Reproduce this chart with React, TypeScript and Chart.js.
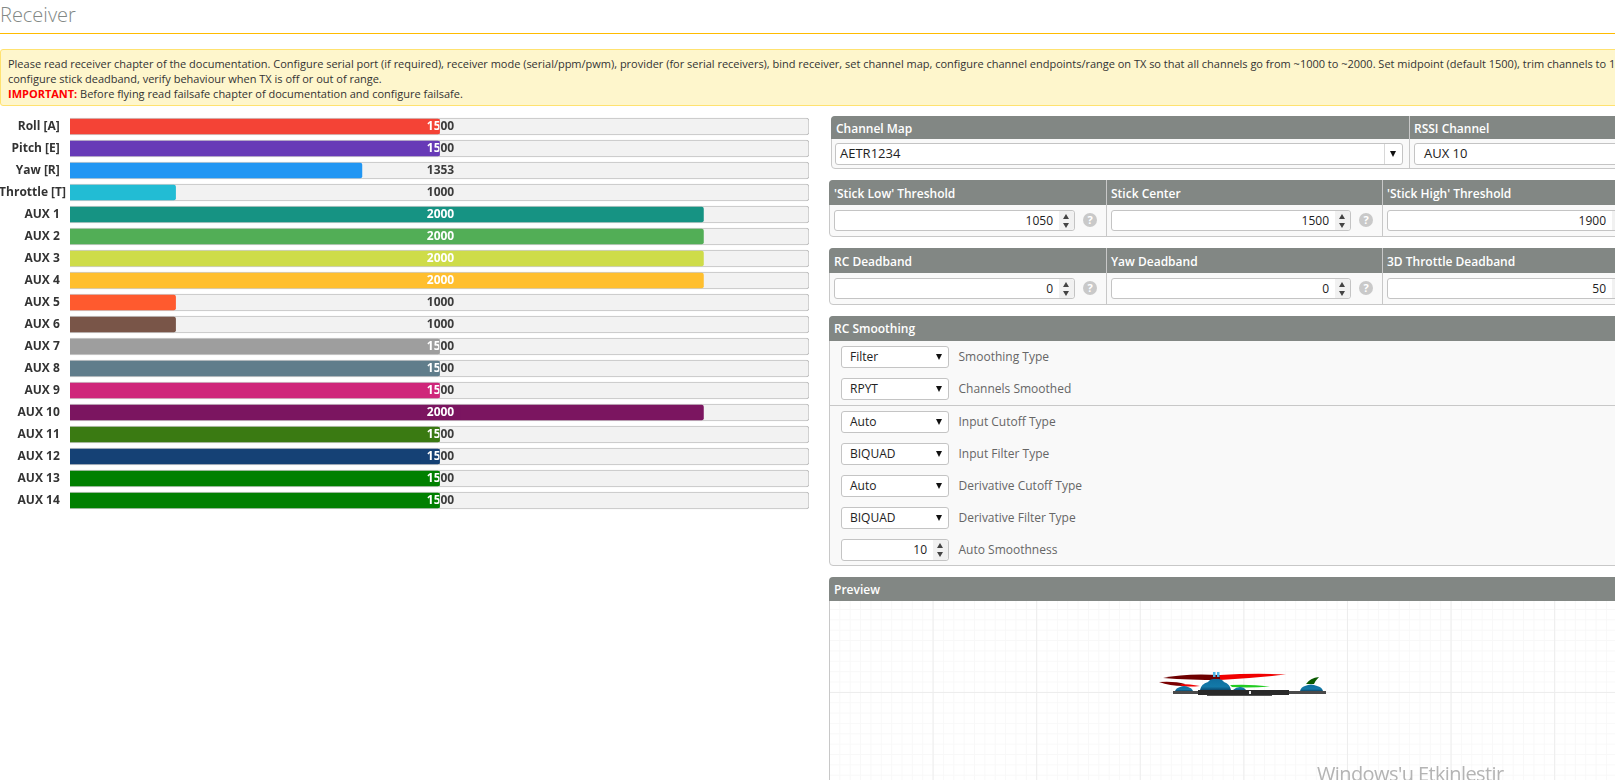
import { useEffect, useRef } from "react";
import type { CSSProperties, ReactNode } from "react";
import { Chart, registerables } from "chart.js";

Chart.register(...registerables);

const channels = [
  "Roll [A]", "Pitch [E]", "Yaw [R]", "Throttle [T]", "AUX 1", "AUX 2", "AUX 3", "AUX 4", "AUX 5",
  "AUX 6", "AUX 7", "AUX 8", "AUX 9", "AUX 10", "AUX 11", "AUX 12", "AUX 13", "AUX 14",
];
const channelValues = [1500, 1500, 1353, 1000, 2000, 2000, 2000, 2000, 1000, 1000, 1500, 1500, 1500, 2000, 1500, 1500, 1500, 1500];
const channelColors = [
  "#f44336", "#673ab7", "#2196f3", "#22bcd4", "#169383", "#52ae56", "#cedc49", "#ffbf2e", "#ff5a2e",
  "#795548", "#9e9e9e", "#607d8b", "#cf267a", "#7b1560", "#3a7a12", "#154175", "#008000", "#008000",
];
const meterMin = 800;
const meterMax = 2200;
const meterMid = 1500;

const FONT = '"Open Sans", sans-serif';

// value text sits in the middle of the track, white where the fill covers it
const meterTextPlugin = {
  id: "meterText",
  afterDatasetsDraw(chart: any) {
    const { ctx, scales } = chart;
    const cx = scales.x.getPixelForValue(meterMid) + 1;
    ctx.save();
    ctx.font = `bold 12px ${FONT}`;
    ctx.textAlign = "center";
    ctx.textBaseline = "middle";
    channelValues.forEach((v, i) => {
      const y = scales.y.getPixelForValue(i);
      ctx.fillStyle = "#3c3c3c";
      ctx.fillText(String(v), cx, y);
      const end = scales.x.getPixelForValue(v);
      ctx.save();
      ctx.beginPath();
      ctx.rect(scales.x.left, y - 9, end - scales.x.left, 18);
      ctx.clip();
      ctx.fillStyle = channelColors[i];
      ctx.fillRect(Math.max(cx - 20, scales.x.left), y - 7.5, 40, 15);
      ctx.fillStyle = "#ffffff";
      ctx.fillText(String(v), cx, y);
      ctx.restore();
    });
    ctx.restore();
  },
};

function ReceiverMeters() {
  const canvasRef = useRef<HTMLCanvasElement>(null);

  useEffect(() => {
    if (!canvasRef.current) return;
    const chart = new Chart(canvasRef.current, {
      type: "bar",
      data: {
        labels: channels,
        datasets: [
          {
            data: channelValues,
            backgroundColor: channelColors,
            barThickness: 15,
            borderRadius: 2,
            borderSkipped: false,
            grouped: false,
            order: 1,
          } as any,
          {
            data: channels.map(() => meterMax),
            backgroundColor: "#f2f2f2",
            borderColor: "#c0c0c0",
            borderWidth: 1,
            barThickness: 17,
            borderRadius: 3,
            borderSkipped: false,
            grouped: false,
            order: 2,
          } as any,
        ],
      },
      plugins: [meterTextPlugin],
      options: {
        indexAxis: "y",
        responsive: false,
        animation: false,
        devicePixelRatio: 1,
        layout: { padding: { left: 0, right: 11, top: 0.5, bottom: 0.5 } },
        scales: {
          x: { display: false, min: meterMin, max: meterMax },
          y: {
            afterFit: (scale: any) => {
              scale.width = 70;
              // the rows fill the whole canvas height
              scale.paddingTop = 0;
              scale.paddingBottom = 0;
            },
            grid: { display: false, drawTicks: false },
            border: { display: false },
            ticks: {
              padding: 4,
              color: "#333333",
              font: { family: FONT, size: 12, weight: "bold" },
              autoSkip: false,
              // Throttle overhangs the 60px label column in the original
              callback: (_v: any, i: number) => (channels[i] === "Throttle [T]" ? channels[i] : channels[i] + "\u00a0\u00a0"),
            },
          },
        },
        plugins: { legend: { display: false }, tooltip: { enabled: false } },
      },
    });
    return () => chart.destroy();
  }, []);

  return <canvas ref={canvasRef} width={820} height={397} style={{ position: "absolute", left: 0, top: 115 }} />;
}

function Box({ l, t, w, h, style, children }: { l: number; t: number; w?: number; h?: number; style?: CSSProperties; children?: ReactNode }) {
  return <div style={{ position: "absolute", left: l, top: t, width: w, height: h, boxSizing: "border-box", ...style }}>{children}</div>;
}

function Panel({ l, t, h, headerH, dividers = [] }: { l: number; t: number; h: number; headerH: number; dividers?: number[] }) {
  return (
    <>
      <Box l={l} t={t} w={1615 - l + 20} h={h} style={{ background: "#f9f9f9", border: "1px solid #c8c8c8", borderRadius: 4 }} />
      <Box l={l} t={t} w={1615 - l + 20} h={headerH} style={{ background: "#828784", borderRadius: "4px 4px 0 0" }} />
      {dividers.map((x) => (
        <Box key={x} l={x} t={t} w={1} h={h} style={{ background: "#c8c8c8" }} />
      ))}
    </>
  );
}

function Head({ l, t, children }: { l: number; t: number; children: ReactNode }) {
  return <Box l={l} t={t} style={{ color: "#fff", fontSize: 12, fontWeight: 600, lineHeight: "16px", whiteSpace: "nowrap" }}>{children}</Box>;
}

function Arrow({ l, t }: { l: number; t: number }) {
  return <Box l={l} t={t} style={{ width: 0, height: 0, borderLeft: "3px solid transparent", borderRight: "3px solid transparent", borderTop: "6px solid #111" }} />;
}

function Spinner({ l, t, h }: { l: number; t: number; h: number }) {
  return (
    <Box l={l} t={t} w={15} h={h} style={{ background: "#f1f1f1", borderRadius: "0 3px 3px 0" }}>
      <Box l={4} t={h / 2 - 7} style={{ width: 0, height: 0, borderLeft: "3.5px solid transparent", borderRight: "3.5px solid transparent", borderBottom: "5px solid #444" }} />
      <Box l={4} t={h / 2 + 2} style={{ width: 0, height: 0, borderLeft: "3.5px solid transparent", borderRight: "3.5px solid transparent", borderTop: "5px solid #444" }} />
    </Box>
  );
}

function NumberField({ l, r, t, h, value }: { l: number; r: number; t: number; h: number; value: string }) {
  return (
    <>
      <Box l={l} t={t} w={r - l} h={h} style={{ background: "#fff", border: "1px solid #c4c4c4", borderRadius: 3 }} />
      <Box l={l} t={t} w={r - l - 22} h={h} style={{ textAlign: "right", fontSize: 12, lineHeight: `${h}px`, color: "#222" }}>{value}</Box>
      <Spinner l={r - 16} t={t + 1} h={h - 2} />
    </>
  );
}

function Help({ l, t }: { l: number; t: number }) {
  return <Box l={l} t={t} w={14} h={14} style={{ borderRadius: 7, background: "#c9c9c9", color: "#fff", fontSize: 11, fontWeight: 700, lineHeight: "14px", textAlign: "center" }}>?</Box>;
}

function Select({ t, value, label }: { t: number; value: string; label: string }) {
  return (
    <>
      <Box l={841} t={t} w={108} h={22} style={{ background: "#fff", border: "1px solid #c4c4c4", borderRadius: 3, paddingLeft: 8, fontSize: 12, lineHeight: "20px", color: "#222" }}>{value}</Box>
      <Arrow l={936} t={t + 8} />
      <Box l={958.5} t={t} h={22} style={{ fontSize: 12, lineHeight: "22px", color: "#666", whiteSpace: "nowrap" }}>{label}</Box>
    </>
  );
}

function Drone() {
  return (
    <svg width={1615} height={780} style={{ position: "absolute", left: 0, top: 0 }}>
      <defs>
        <linearGradient id="dome" x1="0" y1="0" x2="0" y2="1">
          <stop offset="0" stopColor="#0f6f9f" />
          <stop offset="0.7" stopColor="#1379a8" />
          <stop offset="1" stopColor="#0a4a70" />
        </linearGradient>
      </defs>
      <path d="M1163 678 Q1185 673 1220 675 L1220 680 Q1190 680 1163 678Z" fill="#6e0000" />
      <path d="M1220 675 Q1255 673 1286 674.500 Q1255 678 1220 680Z" fill="#f00000" />
      <path d="M1159 682 Q1175 681 1185 684 L1183 686 Q1170 686 1159 682Z" fill="#7a0000" />
      <path d="M1180 684 Q1190 684 1200 686 Q1190 687 1182 686Z" fill="#f00000" />
      <path d="M1230 685 Q1250 684 1270 686.500 Q1250 688 1232 687Z" fill="#22cc22" />
      <path d="M1306 684 Q1310 678 1319 677 Q1315 681 1314 684Z" fill="#0a5a00" />
      <rect x={1213} y={672} width={2.500} height={5} fill="#4fb6e8" />
      <rect x={1217} y={672} width={2.500} height={5} fill="#4fb6e8" />
      <path d="M1200 690 Q1201 684 1208 682 Q1210 679 1214 679 L1218 679 Q1222 679 1224 682 Q1230 684 1231 690Z" fill="url(#dome)" />
      <path d="M1175 691 Q1176 688 1180 687 Q1184 685 1188 687 Q1192 688 1193 691Z" fill="url(#dome)" />
      <path d="M1300 691 Q1301 687 1305 686 Q1311 683 1317 686 Q1322 687 1323 691Z" fill="url(#dome)" />
      <path d="M1233 690 Q1236 687 1240 687 Q1244 687 1246 690Z" fill="url(#dome)" />
      <rect x={1173} y={691} width={153} height={3} fill="#4a4a4a" />
      <rect x={1198} y={690} width={91} height={5} fill="#2a2a2a" />
      <rect x={1207} y={695} width={65} height={1} fill="#555" />
      <rect x={1249} y={691} width={2} height={3} fill="#eee" />
    </svg>
  );
}

export default function App() {
  useEffect(() => {
    document.body.style.margin = "0";
  }, []);

  const grid: CSSProperties = {
    backgroundColor: "#fff",
    backgroundImage: [
      "linear-gradient(to right, #ededed 1px, transparent 1px)",
      "linear-gradient(to bottom, #ededed 1px, transparent 1px)",
      "linear-gradient(to right, #f8f8f8 1px, transparent 1px)",
      "linear-gradient(to bottom, #f8f8f8 1px, transparent 1px)",
    ].join(","),
    backgroundSize: "103.6px 103.6px, 103.6px 103.6px, 10.36px 10.36px, 10.36px 10.36px",
    backgroundPosition: "-1px 91px, -1px 91px, -1px 8px, -1px 8px",
  };

  return (
    <div style={{ position: "relative", width: 1615, height: 780, overflow: "hidden", background: "#fff", fontFamily: FONT }}>
      <Box l={0} t={0} style={{ fontSize: 20, fontWeight: 300, color: "#828885", lineHeight: "30px" }}>Receiver</Box>
      <Box l={0} t={33} w={1615} h={1} style={{ background: "#ffbb00" }} />

      <Box l={0} t={49} w={1625} h={57} style={{ background: "#fef6cc", border: "1px solid #ffe270", borderRadius: 3, padding: "6px 7px", fontSize: 11, lineHeight: "15px", letterSpacing: "-0.01px", color: "#333", whiteSpace: "nowrap", overflow: "hidden" }}>
        Please read receiver chapter of the documentation. Configure serial port (if required), receiver mode (serial/ppm/pwm), provider (for serial receivers), bind receiver, set channel map, configure channel endpoints/range on TX so that all channels go from ~1000 to ~2000. Set midpoint (default 1500), trim channels to 1500,
        <br />
        configure stick deadband, verify behaviour when TX is off or out of range.
        <br />
        <b style={{ color: "#f00" }}>IMPORTANT:</b> Before flying read failsafe chapter of documentation and configure failsafe.
      </Box>

      <ReceiverMeters />

      <Panel l={831} t={116} h={53} headerH={23} dividers={[1409]} />
      <Head l={836} t={121}>Channel Map</Head>
      <Head l={1414} t={121}>RSSI Channel</Head>
      <Box l={835} t={143} w={568} h={22} style={{ background: "#fff", border: "1px solid #c4c4c4", borderRadius: 3, paddingLeft: 4, fontSize: 13, lineHeight: "19px", color: "#222" }}>AETR1234</Box>
      <Box l={1384} t={144} w={1} h={20} style={{ background: "#d8d8d8" }} />
      <Arrow l={1390} t={151} />
      <Box l={1414} t={143} w={220} h={22} style={{ background: "#fff", border: "1px solid #c4c4c4", borderRadius: 3, paddingLeft: 9, fontSize: 13, lineHeight: "19px", color: "#222" }}>AUX 10</Box>

      <Panel l={829} t={180} h={57} headerH={25} dividers={[1106, 1382]} />
      <Head l={834} t={186}>'Stick Low' Threshold</Head>
      <Head l={1111} t={186}>Stick Center</Head>
      <Head l={1387} t={186}>'Stick High' Threshold</Head>
      <NumberField l={834} r={1075} t={210} h={21} value="1050" />
      <Help l={1083} t={213} />
      <NumberField l={1111} r={1351} t={210} h={21} value="1500" />
      <Help l={1359} t={213} />
      <NumberField l={1387} r={1628} t={210} h={21} value="1900" />

      <Panel l={829} t={248} h={57} headerH={25} dividers={[1106, 1382]} />
      <Head l={834} t={254}>RC Deadband</Head>
      <Head l={1111} t={254}>Yaw Deadband</Head>
      <Head l={1387} t={254}>3D Throttle Deadband</Head>
      <NumberField l={834} r={1075} t={278} h={21} value="0" />
      <Help l={1083} t={281} />
      <NumberField l={1111} r={1351} t={278} h={21} value="0" />
      <Help l={1359} t={281} />
      <NumberField l={1387} r={1628} t={278} h={21} value="50" />

      <Panel l={829} t={316} h={250} headerH={25} />
      <Head l={834} t={321}>RC Smoothing</Head>
      <Select t={346} value="Filter" label="Smoothing Type" />
      <Select t={378} value="RPYT" label="Channels Smoothed" />
      <Box l={830} t={405} w={790} h={1} style={{ background: "#c8c8c8" }} />
      <Select t={411} value="Auto" label="Input Cutoff Type" />
      <Select t={443} value="BIQUAD" label="Input Filter Type" />
      <Select t={475} value="Auto" label="Derivative Cutoff Type" />
      <Select t={507} value="BIQUAD" label="Derivative Filter Type" />
      <NumberField l={841} r={949} t={539} h={22} value="10" />
      <Box l={958.5} t={539} h={22} style={{ fontSize: 12, lineHeight: "22px", color: "#666", whiteSpace: "nowrap" }}>Auto Smoothness</Box>

      <Box l={829} t={601} w={800} h={190} style={{ ...grid, borderLeft: "1px solid #c8c8c8" }} />
      <Box l={829} t={577} w={800} h={24} style={{ background: "#828784", borderRadius: "4px 4px 0 0" }} />
      <Head l={834} t={582}>Preview</Head>
      <Drone />

      <Box l={1317} t={760} style={{ fontSize: 20, lineHeight: "28px", letterSpacing: "-0.6px", color: "#b4b4b4", whiteSpace: "nowrap" }}>Windows'u Etkinleştir</Box>
    </div>
  );
}
